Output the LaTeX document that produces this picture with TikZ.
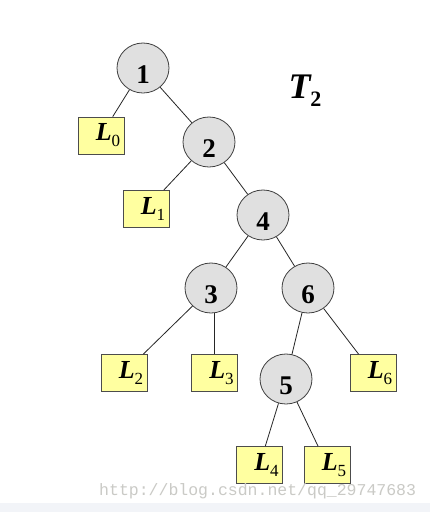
\documentclass[tikz,border=0pt]{standalone}
\usepackage{fontspec}
\setmainfont{Liberation Serif}
\newfontfamily\wmfont{Liberation Mono}
\usetikzlibrary{shapes.geometric}
\definecolor{nodegray}{RGB}{224,224,224}
\definecolor{leafyellow}{RGB}{255,255,160}
\definecolor{wmgray}{RGB}{202,202,198}
\definecolor{bandgray}{RGB}{242,244,248}
\newcommand\leaflabel[1]{\hspace*{14pt}{\bfseries\itshape L}\raisebox{-6pt}{\fontsize{17}{17}\selectfont #1}}
\begin{document}
\begin{tikzpicture}[x=1pt,y=-1pt,
  inode/.style={ellipse, draw=black!75, fill=nodegray, minimum width=52pt, minimum height=50pt, inner sep=0pt, line width=0.8pt},
  num/.style={inner sep=0pt, font=\fontsize{27}{27}\selectfont\bfseries},
  leaf/.style={rectangle, draw=black!70, fill=leafyellow, minimum width=46pt, minimum height=37pt, inner sep=0pt, line width=0.8pt, font=\fontsize{26}{26}\selectfont},
  edge/.style={draw=black!85, line width=0.8pt}]
\useasboundingbox (0,0) rectangle (430,512);
\fill[white] (0,0) rectangle (430,512);
\fill[bandgray] (0,503) rectangle (430,512);

% internal nodes
\node[inode] (n1) at (143,68) {};
\node[inode] (n2) at (209,142) {};
\node[inode] (n4) at (263,215) {};
\node[inode] (n3) at (211,288) {};
\node[inode] (n6) at (308,288) {};
\node[inode] (n5) at (286,379) {};

% leaves
\node[leaf] (l0) at (101,135.5) {\leaflabel{0}};
\node[leaf] (l1) at (146,209) {\leaflabel{1}};
\node[leaf] (l2) at (124,373) {\leaflabel{2}};
\node[leaf] (l3) at (214.5,373) {\leaflabel{3}};
\node[leaf] (l6) at (373,373) {\leaflabel{6}};
\node[leaf] (l4) at (259.5,465) {\leaflabel{4}};
\node[leaf] (l5) at (327,465) {\leaflabel{5}};

% edges
\draw[edge] (n1) -- (l0);
\draw[edge] (n1) -- (n2);
\draw[edge] (n2) -- (l1);
\draw[edge] (n2) -- (n4);
\draw[edge] (n4) -- (n3);
\draw[edge] (n4) -- (n6);
\draw[edge] (n3) -- (l2);
\draw[edge] (l3.north) -- (l3.north |- n3.south);
\draw[edge] (n6) -- (n5);
\draw[edge] (n6) -- (l6);
\draw[edge] (n5) -- (l4);
\draw[edge] (n5) -- (l5);

% numbers
\node[num] (t1) at ([yshift=-7pt]n1.center) {1};
\node[num] (t2) at ([yshift=-7pt]n2.center) {2};
\node[num] (t4) at ([yshift=-7pt]n4.center) {4};
\node[num] (t3) at ([yshift=-7pt]n3.center) {3};
\node[num] (t6) at ([yshift=-7pt]n6.center) {6};
\node[num] (t5) at ([yshift=-7pt]n5.center) {5};

% title
\node[inner sep=0pt] (title) at (305,91) {\fontsize{36}{36}\selectfont\bfseries\itshape T\raisebox{-8pt}{\upshape\fontsize{22}{22}\selectfont 2}};

% watermark
\node[anchor=west, inner sep=0pt, text=wmgray] (wm) at (99,491) {\wmfont\fontsize{16.5}{16.5}\selectfont http://blog.csdn.net/qq\_29747683};
\end{tikzpicture}
\end{document}
